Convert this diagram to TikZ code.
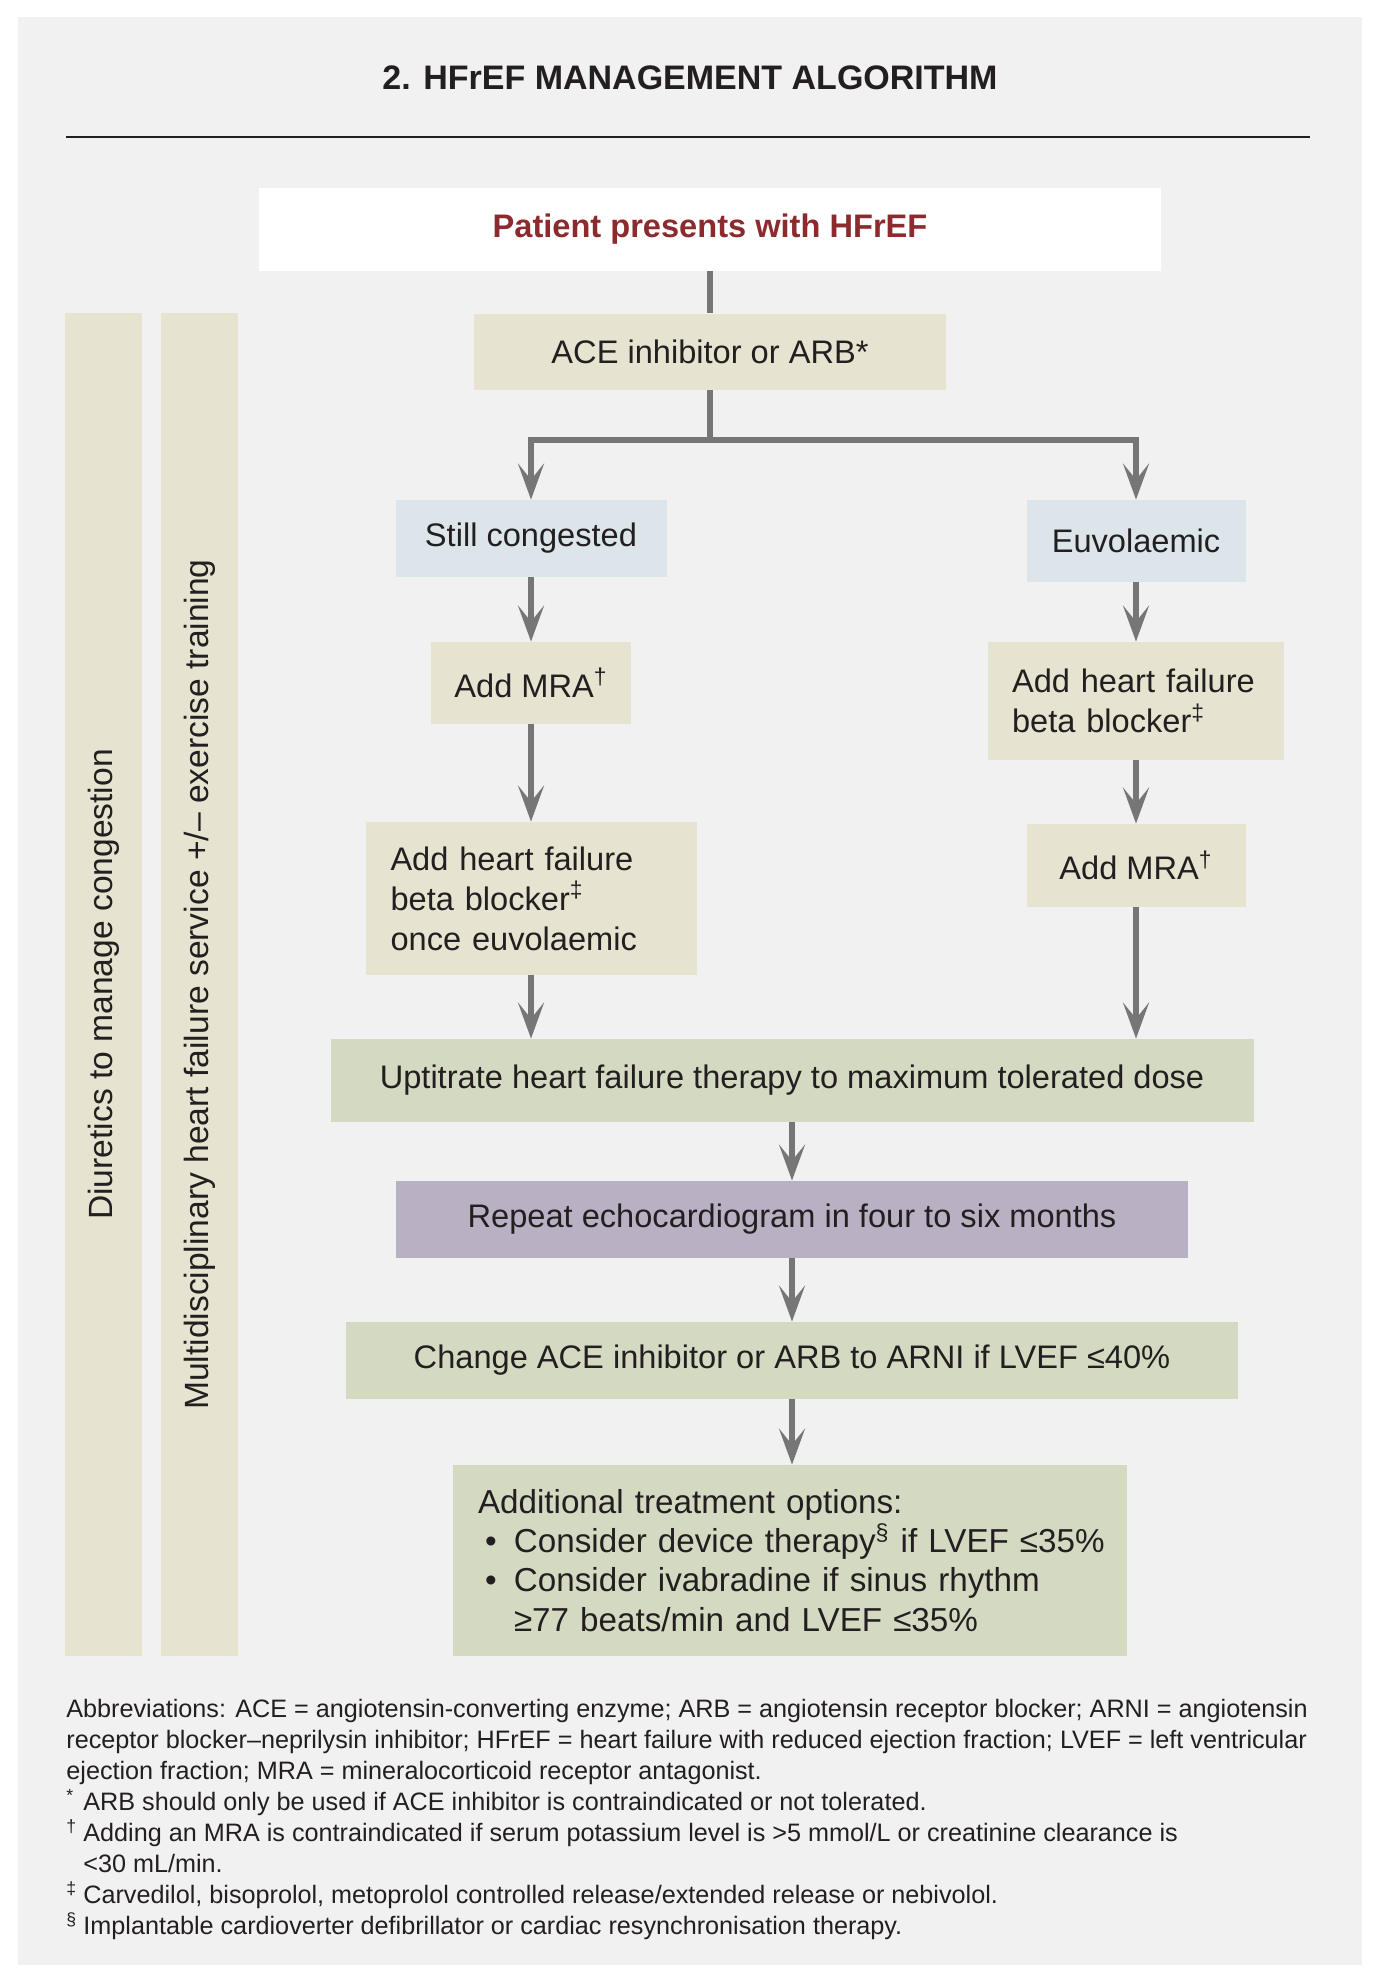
\documentclass[tikz,border=0pt]{standalone}
\usepackage{fontspec}
\setmainfont{Liberation Sans}
\usetikzlibrary{arrows.meta}
\definecolor{panel}{HTML}{F1F1F1}
\definecolor{beige}{HTML}{E6E3D0}
\definecolor{pale}{HTML}{DCE6EA}
\definecolor{sage}{HTML}{D4DAC2}
\definecolor{mauve}{HTML}{B9B1C3}
\definecolor{wine}{HTML}{8C2A2E}
\definecolor{ink}{HTML}{231F20}
\definecolor{conn}{HTML}{767676}
\newcommand{\notesym}[1]{\makebox[8.5pt][l]{\textsuperscript{#1}}}
\newcommand{\optbullet}{\hspace*{3.5pt}\makebox[14.5pt][l]{•}}

\begin{document}
\begin{tikzpicture}[x=0.5pt,y=-0.5pt,
      every node/.style={font=\fontsize{16.3}{20}\selectfont,text=ink,inner sep=0pt},
      beigebox/.style={fill=beige},
      bluebox/.style={fill=pale},
      sagebox/.style={fill=sage},
      sidebar/.style={fill=beige,rotate=90,minimum width=671.5pt,minimum height=38.5pt,font=\fontsize{16.8}{20}\selectfont},
      trunk/.style={draw=conn,line width=2.6pt},
      flow/.style={draw=conn,line width=2.6pt,-{Stealth[length=18pt,width=13pt,inset=8pt]}}]
    % page and panel
    \useasboundingbox (0,0) rectangle (1376,1985);
    \fill[panel] (18,17) rectangle (1362,1965);
    % Heading
    \node[font=\bfseries\fontsize{17}{20}\selectfont] (title) at (690,78) {2. HFrEF MANAGEMENT ALGORITHM};
    \draw[ink,line width=1.3pt] (66,137) -- (1310,137);
    % Side bars
    \node[sidebar] (diur) at (103.5,984.5) {Diuretics to manage congestion};
    \node[sidebar] (mdt) at (199.5,984.5) {Multidisciplinary heart failure service +/– exercise training};
    % Top: presentation and first drug
    \node[fill=white,minimum width=451pt,minimum height=41.5pt,text=wine,font=\bfseries\fontsize{16.3}{20}\selectfont] (pat) at (710,229.5) {Patient presents with HFrEF};
    \node[beigebox,minimum width=236pt,minimum height=38pt] (ace) at (710,351.5) {ACE inhibitor or ARB*};
    \coordinate (fork) at (710,440);
    % Left branch
    \node[bluebox,minimum width=135.5pt,minimum height=38.5pt] (cong) at (531,538.5) {Still congested};
    \node[beigebox,minimum width=100pt,minimum height=41pt] (mraL) at (531,683) {Add MRA\textsuperscript{†}};
    \node[beigebox,minimum height=76.5pt,inner xsep=12.5pt,text width=140.5pt,align=left] (bbL) at (531,898.5) {Add heart failure\\beta blocker\textsuperscript{‡}\\once euvolaemic};
    % Right branch
    \node[bluebox,minimum width=109.5pt,minimum height=41pt] (euvo) at (1136,541) {Euvolaemic};
    \node[beigebox,minimum height=59pt,inner xsep=12pt,text width=124pt,align=left] (bbR) at (1136,701) {Add heart failure\\beta blocker\textsuperscript{‡}};
    \node[beigebox,minimum width=109.5pt,minimum height=41.5pt] (mraR) at (1136,865.5) {Add MRA\textsuperscript{†}};
    % Common path
    \node[sagebox,minimum width=461.5pt,minimum height=41.5pt] (upt) at (792,1080.5) {Uptitrate heart failure therapy to maximum tolerated dose};
    \node[fill=mauve,minimum width=396pt,minimum height=38.5pt] (echo) at (792,1219.5) {Repeat echocardiogram in four to six months};
    \node[sagebox,minimum width=446pt,minimum height=38.5pt] (arni) at (792,1360.5) {Change ACE inhibitor or ARB to ARNI if LVEF ≤40\%};
    \node[sagebox,minimum height=95.5pt,inner xsep=12.5pt,text width=312pt,align=left,font=\fontsize{16.6}{19.6}\selectfont] (addl) at (790,1560.5) {Additional treatment options:\\
      \mbox{\optbullet Consider device therapy\textsuperscript{§} if LVEF ≤35\%}\\
      \optbullet Consider ivabradine if sinus rhythm\\
      \hspace*{18pt}≥77 beats/min and LVEF ≤35\%};
    % Connectors
    \draw[trunk] (pat.south) -- (ace.north);
    \draw[trunk] (ace.south) -- (fork);
    \draw[flow] (fork) -| (cong.north);
    \draw[flow] (fork) -| (euvo.north);
    \draw[flow] (cong) -- (mraL);
    \draw[flow] (mraL) -- (bbL);
    \draw[flow] (bbL.south) -- (bbL.south |- upt.north);
    \draw[flow] (euvo) -- (bbR);
    \draw[flow] (bbR) -- (mraR);
    \draw[flow] (mraR.south) -- (mraR.south |- upt.north);
    \draw[flow] (upt) -- (echo);
    \draw[flow] (echo) -- (arni);
    \draw[flow] (arni.south) -- (arni.south |- addl.north);
    % Notes
    \node[anchor=north west,align=left,font=\fontsize{12.6}{15.5}\selectfont] (notes) at (66,1699) {Abbreviations: ACE = angiotensin-converting enzyme; ARB = angiotensin receptor blocker; ARNI = angiotensin\\
      receptor blocker–neprilysin inhibitor; HFrEF = heart failure with reduced ejection fraction; LVEF = left ventricular\\
      ejection fraction; MRA = mineralocorticoid receptor antagonist.\\
      \notesym{*}ARB should only be used if ACE inhibitor is contraindicated or not tolerated.\\
      \notesym{†}Adding an MRA is contraindicated if serum potassium level is >5 mmol/L or creatinine clearance is\\
      \hspace*{8.5pt}<30 mL/min.\\
      \notesym{‡}Carvedilol, bisoprolol, metoprolol controlled release/extended release or nebivolol.\\
      \notesym{§}Implantable cardioverter defibrillator or cardiac resynchronisation therapy.};
  \end{tikzpicture}
\end{document}
